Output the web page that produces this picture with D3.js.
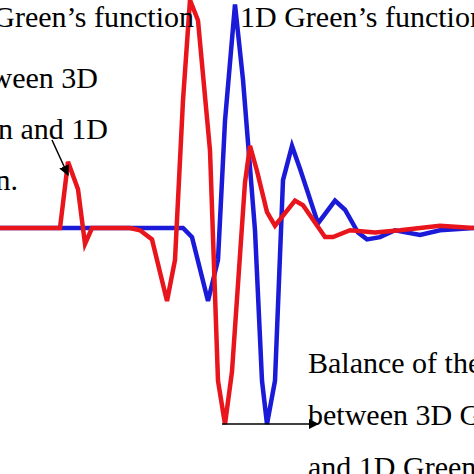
<!DOCTYPE html>
<html><head><meta charset="utf-8">
<script src="https://cdn.jsdelivr.net/npm/d3@7"></script>
<style>body{margin:0;background:#fff}</style></head>
<body><div id="chart"></div>
<script>
// time index (px-like units) and amplitude
const redT = [0,60,68,78,85,92,130,140,152,167,175,183,190,198,210,218,225,232,245,250,257,267,275,295,303,325,333,350,375,400,440,474];
const redA = [0,0,0.29,0.17,-0.07,0,0,-0.01,-0.05,-0.32,-0.14,0.56,1.0,0.91,0.34,-0.67,-0.86,-0.63,0.2,0.36,0.25,0.07,0.01,0.12,0.1,-0.04,-0.04,-0.01,-0.02,-0.01,0.01,0];
const blueT = [0,60,140,183,192,208,218,225,235,243,255,262,267,275,283,292,300,318,335,345,358,367,380,395,420,440,474];
const blueA = [0,0,0,0,-0.04,-0.32,-0.14,0.47,0.98,0.65,-0.01,-0.67,-0.86,-0.67,0.21,0.36,0.26,0.02,0.12,0.08,-0.02,-0.05,-0.04,-0.01,-0.03,-0.01,0];

const labelsTop = ["3D Green’s function", "1D Green’s function"];
const noteLeft = ["between 3D", "Green’s function and 1D", "Green’s function."];
const noteRight = ["Balance of the energy", "between 3D Green’s", "and 1D Green’s function"];

const W = 474, H = 474;
const svg = d3.select("#chart").append("svg").attr("width", W).attr("height", H);

const x = d3.scaleLinear().domain([0, 474]).range([0, 474]);
const y = d3.scaleLinear().domain([-1, 1]).range([456, 0]);

svg.append("defs").append("marker")
    .attr("id", "ah").attr("viewBox", "0 0 10 10").attr("refX", 9).attr("refY", 5)
    .attr("markerWidth", 7).attr("markerHeight", 7).attr("orient", "auto")
    .append("path").attr("d", "M0,0L10,5L0,10z").attr("fill", "#000");

const line = d3.line().x(d => x(d[0])).y(d => y(d[1]));

svg.append("path").datum(blueT.map((t, i) => [t, blueA[i]]))
    .attr("d", line).attr("fill", "none").attr("stroke", "#1a1ad8").attr("stroke-width", 4.5);
svg.append("path").datum(redT.map((t, i) => [t, redA[i]]))
    .attr("d", line).attr("fill", "none").attr("stroke", "#e8161c").attr("stroke-width", 4.5);

const font = "'Liberation Serif', 'Times New Roman', serif";
const txt = (s, tx, ty, anchor) => svg.append("text").text(s).attr("x", tx).attr("y", ty)
    .attr("text-anchor", anchor).attr("font-family", font).attr("font-size", 30).attr("fill", "#000");

txt(labelsTop[0], 194, 27, "end");
txt(labelsTop[1], 240, 27, "start");
txt(noteLeft[0], 98, 88, "end");
txt(noteLeft[1], 108, 139, "end");
txt(noteLeft[2], 18, 190, "end");
noteRight.forEach((s, i) => txt(s, 308, 373 + i * 52, "start"));

// arrows
svg.append("line").attr("x1", 52).attr("y1", 140).attr("x2", 68).attr("y2", 175)
    .attr("stroke", "#000").attr("stroke-width", 1.5).attr("marker-end", "url(#ah)");
svg.append("line").attr("x1", 222).attr("y1", 424).attr("x2", 318).attr("y2", 424)
    .attr("stroke", "#000").attr("stroke-width", 1.5).attr("marker-end", "url(#ah)");
</script></body></html>
